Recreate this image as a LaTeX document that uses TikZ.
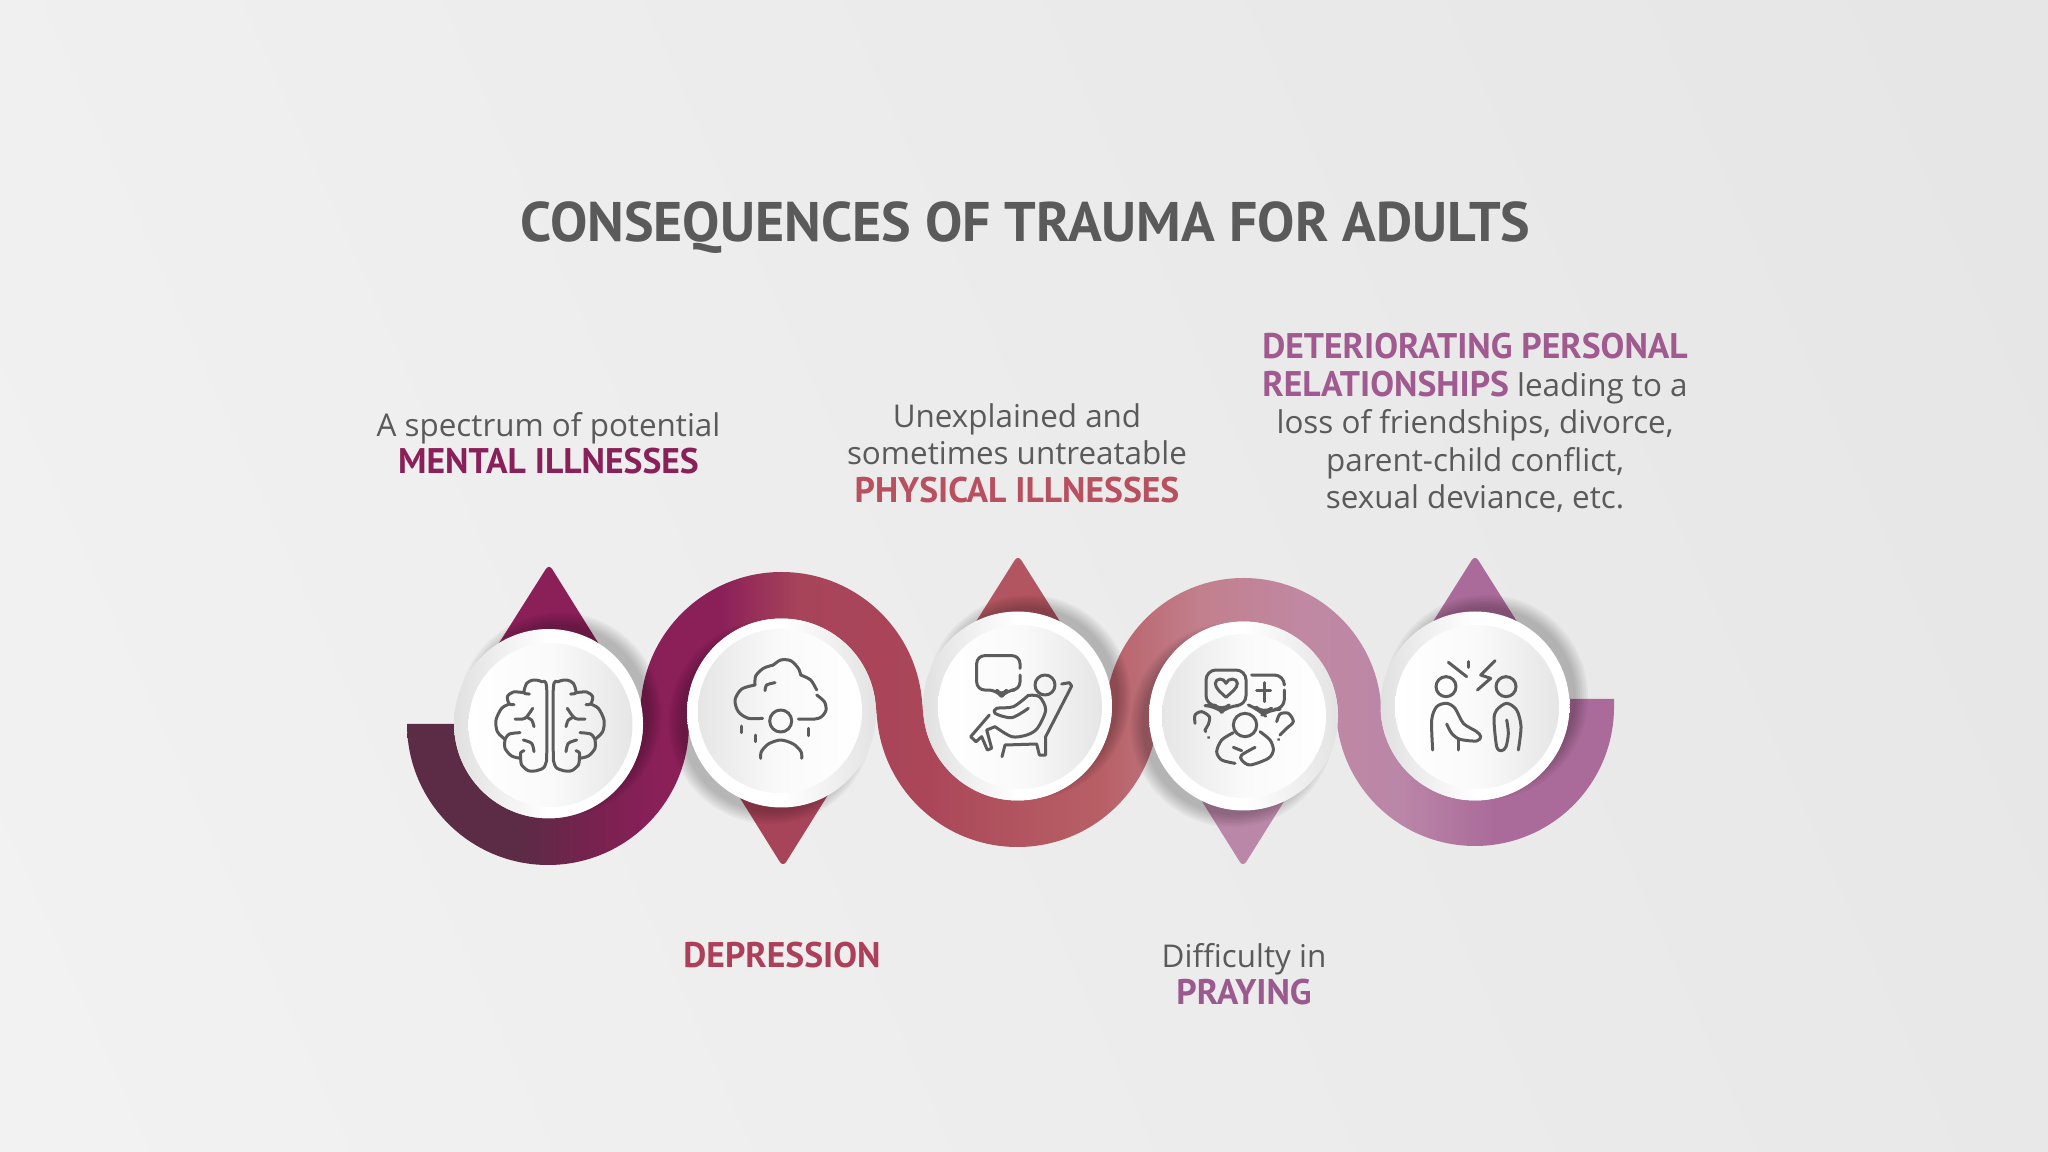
\documentclass[tikz,border=0pt]{standalone}
\usepackage{fontspec}
\usepackage{tikz}
\usetikzlibrary{positioning, shadings}
\setmainfont{Open Sans}
\newfontfamily\headfont{PT Sans}

\definecolor{bandA}{HTML}{5C2B45}
\definecolor{bandB}{HTML}{7A2150}
\definecolor{bandC}{HTML}{8B2059}
\definecolor{bandD}{HTML}{A8445A}
\definecolor{bandE}{HTML}{AB4659}
\definecolor{bandF}{HTML}{B25560}
\definecolor{bandG}{HTML}{B85F66}
\definecolor{bandH}{HTML}{C27F8C}
\definecolor{bandI}{HTML}{C088A2}
\definecolor{bandJ}{HTML}{BB87A8}
\definecolor{bandK}{HTML}{AA6B9A}
\definecolor{textgrey}{HTML}{5A5A5A}
\definecolor{iconline}{HTML}{5C5C5C}
\definecolor{mentalc}{HTML}{8A2059}
\definecolor{depressc}{HTML}{AE3F5A}
\definecolor{physc}{HTML}{B9505F}
\definecolor{prayc}{HTML}{9A5A8E}
\definecolor{persc}{HTML}{A05A90}

\pgfdeclarehorizontalshading{bandshade}{100bp}{
  color(0bp)=(bandA); color(29.7bp)=(bandA); color(33bp)=(bandB); color(35.5bp)=(bandC);
  color(38bp)=(bandC); color(41.3bp)=(bandD); color(46.6bp)=(bandE); color(50.4bp)=(bandF);
  color(53.7bp)=(bandG); color(57.8bp)=(bandH); color(62bp)=(bandI); color(66bp)=(bandJ);
  color(70bp)=(bandK); color(100bp)=(bandK)}

\tikzset{
  ringodd/.style={circle, inner sep=0pt, minimum size=94.5pt, left color=black!12, right color=white, middle color=white},
  ringeven/.style={circle, inner sep=0pt, minimum size=94.5pt, left color=white, right color=black!11, middle color=white},
  discodd/.style={circle, inner sep=0pt, minimum size=82pt, left color=white, right color=black!10, middle color=black!2},
  disceven/.style={circle, inner sep=0pt, minimum size=82pt, left color=black!10, right color=white, middle color=black!2},
  icon/.style={draw=iconline, line width=1.5pt, line cap=round, line join=round},
  textbox/.style={align=center, text=textgrey, font=\fontsize{15.7}{18.7}\selectfont},
  zoomA/.style={shift={(390,611)}, x=0.16667pt, y=-0.16667pt},
  zoomB/.style={shift={(880,611)}, x=0.16667pt, y=-0.16667pt},
  zoomC/.style={shift={(1320,611)}, x=0.16667pt, y=-0.16667pt},
}
\newcommand{\hl}[2]{{\headfont\bfseries\fontsize{17.8}{18.7}\selectfont\color{#1}#2}}
\newcommand{\brainhalf}{
  \draw[icon] plot[smooth] coordinates {(470,660) (470,445) (455,425) (430,420) (410,430) (402,458) (418,462)};
  \draw[icon] plot[smooth] coordinates {(402,458) (370,456) (352,470) (358,492) (372,494)};
  \draw[icon] plot[smooth] coordinates {(358,492) (335,505) (318,540) (322,575) (345,598)};
  \draw[icon] plot[smooth] coordinates {(345,598) (345,625) (365,648) (392,655)};
  \draw[icon] plot[smooth] coordinates {(392,655) (395,675) (415,692) (440,692) (462,682) (470,660)};
  \draw[icon] plot[smooth] coordinates {(375,537) (405,535) (428,505)};
  \draw[icon] plot[smooth] coordinates {(410,532) (425,540) (432,560)};
  \draw[icon] plot[smooth] coordinates {(345,598) (358,582) (390,578)};
  \draw[icon] plot[smooth] coordinates {(400,600) (425,610) (432,635)};
  \draw[icon] plot[smooth] coordinates {(392,655) (392,638) (402,632)};
}

\begin{document}
\begin{tikzpicture}[x=0.5pt, y=0.5pt]
  \useasboundingbox (0,0) rectangle (2048,1151);
  \shade[upper left=black!6, upper right=black!10, lower left=black!5, lower right=black!9] (0,0) rectangle (2048,1151);

  \node (title) at (1025.5,923) {\headfont\bfseries\fontsize{27.9}{32}\selectfont\color{textgrey}CONSEQUENCES OF TRAUMA FOR ADULTS};

  % pointers
  \fill[bandC, rounded corners=3pt] (549,587) -- (622,470) -- (475,470) -- cycle;
  \fill[bandD, rounded corners=3pt] (783,284) -- (710,401) -- (856,401) -- cycle;
  \fill[bandF, rounded corners=3pt] (1018,596) -- (948,485) -- (1088,485) -- cycle;
  \fill[bandJ, rounded corners=3pt] (1243,284) -- (1173,396) -- (1313,396) -- cycle;
  \fill[bandK, rounded corners=3pt] (1475,596) -- (1405,485) -- (1545,485) -- cycle;

  % band
  \shade[shading=bandshade] (407,427) arc[start angle=180, end angle=360, radius=141]
    -- (687,438) arc[start angle=180, end angle=0, radius=94.5]
    -- (876.5,445) arc[start angle=180, end angle=360, radius=141]
    -- (1149,435) arc[start angle=180, end angle=0, radius=94.5]
    -- (1336,444) arc[start angle=180, end angle=360, radius=139]
    -- (1614,452) -- (1569.5,452) -- (1569.5,445)
    arc[start angle=360, end angle=180, radius=94.5]
    -- (1381.5,435) arc[start angle=0, end angle=180, radius=138]
    -- (1112,445) arc[start angle=360, end angle=180, radius=94.5]
    -- (922.5,438) arc[start angle=0, end angle=180, radius=141]
    -- (643,427) arc[start angle=360, end angle=180, radius=94.5] -- cycle;

  % shadows
  \foreach \r in {90,92,...,102} {
    \fill[black, opacity=0.035] (559.5,436.5) circle [radius=\r];
    \fill[black, opacity=0.035] (770.5,429) circle [radius=\r];
    \fill[black, opacity=0.035] (1028.5,454) circle [radius=\r];
    \fill[black, opacity=0.035] (1232.5,426) circle [radius=\r];
    \fill[black, opacity=0.035] (1486,454) circle [radius=\r];
  }

  \node[ringodd] (ringa) at (548.5,427.5) {};
  \node[ringeven] (ringb) at (781.5,438) {};
  \node[ringodd] (ringc) at (1017.5,445) {};
  \node[ringeven] (ringd) at (1243.5,435) {};
  \node[ringodd] (ringe) at (1475,445) {};
  \node[discodd] (disca) at (550.5,426) {};
  \node[disceven] (discb) at (780,440) {};
  \node[discodd] (discc) at (1020,444) {};
  \node[disceven] (discd) at (1244,435) {};
  \node[discodd] (disce) at (1477,444) {};

  % brain
  \begin{scope}[zoomA]
    \brainhalf
  \end{scope}
  \begin{scope}[shift={(710,611)}, x=-0.16667pt, y=-0.16667pt]
    \brainhalf
  \end{scope}

  % cloud and person
  \begin{scope}[zoomA]
    \draw[icon] plot[smooth] coordinates {(1118,535) (1075,535) (1045,515) (1035,480) (1055,447) (1095,435)};
    \draw[icon] plot[smooth] coordinates {(1095,435) (1097,408) (1120,385) (1150,375)};
    \draw[icon] plot[smooth] coordinates {(1150,375) (1172,360) (1202,362) (1225,385) (1232,405)};
    \draw[icon] plot[smooth] coordinates {(1232,405) (1262,420) (1280,450)};
    \draw[icon] plot[smooth] coordinates {(1280,465) (1303,485) (1308,510) (1295,530) (1275,537) (1225,537)};
    \draw[icon] plot[smooth] coordinates {(1125,452) (1130,435) (1155,428)};
    \draw[icon] (1172,543) circle [radius=33];
    \draw[icon] plot[smooth] coordinates {(1112,655) (1114,635) (1135,612) (1172,600) (1210,612) (1233,635) (1235,655)};
    \draw[icon] (1053,558) -- (1053,578);
    \draw[icon] (1095,585) -- (1095,605);
    \draw[icon] (1255,565) -- (1255,587);
  \end{scope}

  % person on couch
  \begin{scope}[zoomB]
    \draw[icon, rounded corners=4pt] (420,385) -- (420,347) -- (290,347) -- (290,450) -- (350,450) -- (365,470) -- (380,450) -- (420,450) -- (420,405);
    \draw[icon] (495,435) circle [radius=30];
    \draw[icon] (545,432) -- (568,428) -- (575,438) -- (497,590) -- (497,645) -- (478,645) -- (470,612) -- (375,615) -- (366,650);
    \draw[icon] plot[smooth] coordinates {(445,466) (478,470) (497,510) (472,565) (440,585) (395,590) (345,560)};
    \draw[icon] (345,560) -- (320,570) -- (335,625) -- (322,630) -- (305,590) -- (288,605) -- (272,590) -- (328,525);
    \draw[icon] plot[smooth] coordinates {(445,466) (400,500) (350,505) (345,520) (395,533) (445,505)};
  \end{scope}

  % praying person
  \begin{scope}[zoomB]
    \draw[icon, rounded corners=5pt] (978,390) -- (1098,390) -- (1098,497) -- (1045,497) -- (1025,515) -- (1005,497) -- (978,497) -- cycle;
    \draw[icon] (1038,472) .. controls (1020,455) and (1006,445) .. (1006,430) .. controls (1006,414) and (1032,412) .. (1038,430) .. controls (1044,412) and (1072,414) .. (1072,430) .. controls (1072,445) and (1056,455) .. (1038,472);
    \draw[icon, rounded corners=5pt] (1115,405) -- (1213,405) -- (1213,432);
    \draw[icon, rounded corners=5pt] (1213,450) -- (1213,508) -- (1170,508) -- (1150,522) -- (1135,508) -- (1105,495);
    \draw[icon] (1152,428) -- (1152,485);
    \draw[icon] (1130,450) -- (1172,450);
    \draw[icon] plot[smooth] coordinates {(945,550) (945,525) (965,515) (988,530) (985,553) (975,570) (977,575)};
    \draw[icon] (985,592) -- (986,593);
    \draw[icon] plot[smooth] coordinates {(1190,545) (1200,522) (1225,520) (1240,545) (1220,565) (1200,585)};
    \draw[icon] (1195,598) -- (1196,599);
    \draw[icon] (1095,555) circle [radius=35];
    \draw[icon] plot[smooth] coordinates {(1060,578) (1025,600) (1010,635) (1025,660) (1065,670)};
    \draw[icon] plot[smooth] coordinates {(1140,575) (1170,600) (1180,630) (1165,655) (1110,675) (1085,660) (1085,645) (1125,622)};
    \draw[icon] (1060,622) -- (1085,632);
  \end{scope}

  % arguing people
  \begin{scope}[zoomC]
    \draw[icon] (385,367) -- (440,410);
    \draw[icon] (446,365) -- (446,382);
    \draw[icon] (525,362) -- (482,405) -- (512,415) -- (472,450);
    \draw[icon] (378,440) circle [radius=30];
    \draw[icon] (558,440) circle [radius=30];
    \draw[icon] plot[smooth] coordinates {(338,630) (335,540) (350,500) (380,490) (405,505) (430,550) (470,575) (482,590) (470,603) (420,598) (395,580) (380,552)};
    \draw[icon] (416,600) -- (416,630);
    \draw[icon] plot[smooth] coordinates {(595,630) (603,560) (590,510) (560,490) (530,510) (522,540) (530,620) (545,632) (558,620) (565,580) (560,540)};
  \end{scope}

  % texts
  \node[textbox] (mental) at (548.5,708) {A spectrum of potential\\\hl{mentalc}{MENTAL ILLNESSES}};
  \node[textbox] (depress) at (782,196) {\hl{depressc}{DEPRESSION}};
  \node[textbox] (physical) at (1017,698) {Unexplained and\\sometimes untreatable\\\hl{physc}{PHYSICAL ILLNESSES}};
  \node[textbox] (praying) at (1244,177) {Difficulty in\\\hl{prayc}{PRAYING}};
  \node[textbox] (personal) at (1475,728) {\hl{persc}{DETERIORATING PERSONAL}\\\hl{persc}{RELATIONSHIPS} leading to a\\loss of friendships, divorce,\\parent-child conflict,\\sexual deviance, etc.};
\end{tikzpicture}
\end{document}
